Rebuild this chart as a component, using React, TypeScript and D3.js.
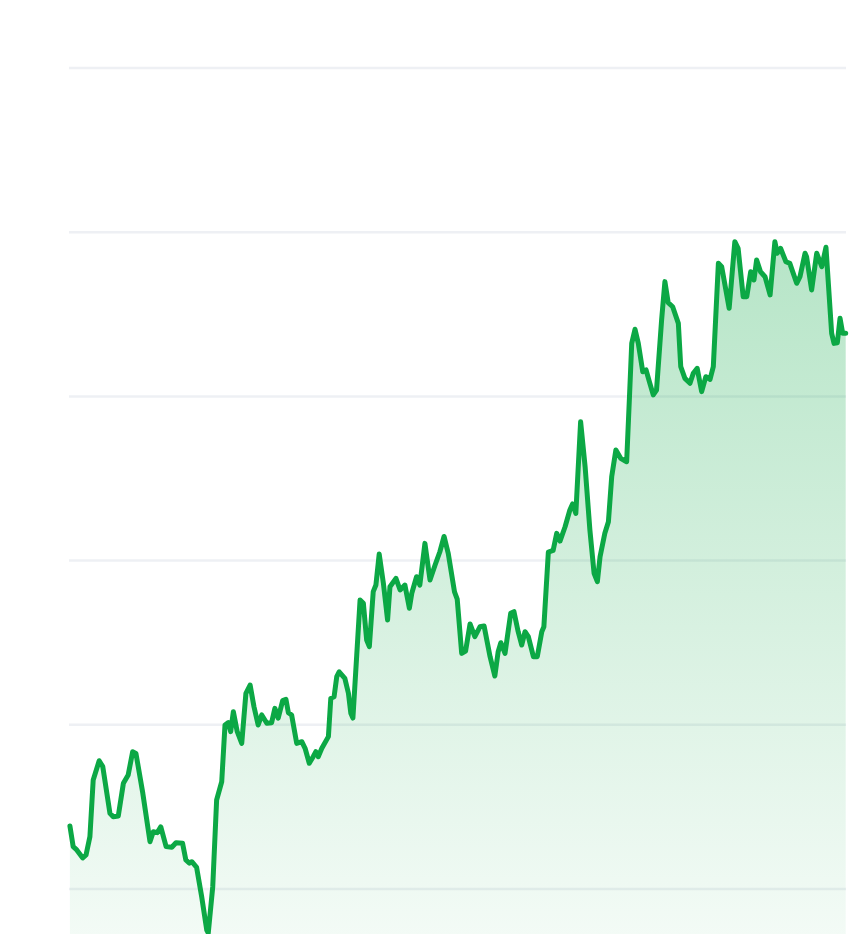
import React from "react";
import * as d3 from "d3";

const days: number[] = [
  0.3, 1.4, 2.6, 4.6, 5.7, 7.0, 8.1, 10.1, 11.3, 13.7, 14.8, 16.5, 18.2, 19.8, 21.3, 22.4, 24.7, 27.1, 28.2, 29.5,
  30.7, 32.5, 34.4, 35.8, 38.0, 39.1, 40.3, 41.1, 42.7, 44.4, 46.1, 46.6, 48.1, 49.4, 51.1, 52.2, 53.3, 54.1, 55.0, 56.3,
  57.8, 59.2, 60.6, 61.9, 63.3, 64.5, 66.2, 67.8, 68.9, 70.0, 71.5, 72.6, 73.4, 74.5, 76.2, 77.9, 79.0, 80.4, 81.7, 82.6,
  83.4, 84.6, 86.8, 87.6, 88.7, 89.6, 90.4, 92.3, 93.5, 94.3, 95.0, 97.4, 98.5, 99.6, 100.5, 101.8, 102.7, 103.8, 105.2, 106.6,
  107.4, 109.4, 110.8, 112.4, 113.9, 114.7, 116.3, 117.4, 119.1, 120.8, 122.5, 124.1, 125.5, 126.9, 129.0, 129.9, 131.4, 132.7, 134.2, 135.8,
  137.5, 138.9, 140.9, 142.5, 143.6, 144.5, 145.9, 147.8, 148.9, 150.3, 151.5, 152.6, 153.7, 155.4, 156.7, 158.2, 158.9, 160.4, 162.0, 163.2,
  164.3, 166.0, 167.6, 168.5, 169.6, 171.2, 172.7, 174.3, 175.7, 176.8, 177.7, 179.3, 180.5, 181.6, 183.0, 184.6, 186.6, 187.5, 188.3, 189.4,
  190.5, 192.0, 193.1, 194.2, 195.5, 196.6, 198.3, 199.4, 200.5, 202.0, 203.9, 204.7, 206.1, 207.8, 208.9, 210.2, 211.7, 213.1, 214.5, 215.6,
  217.3, 218.4, 220.9, 222.8, 223.9, 225.6, 226.8, 228.1, 229.2, 230.1, 231.4, 232.9, 234.6, 236.2, 237.0, 238.1, 239.9, 241.2, 243.5, 244.6,
  246.3, 246.8, 248.5, 250.2, 251.9, 253.3, 255.2, 256.0, 257.1, 258.0, 258.9, 259.9,
];

const values: number[] = [
  3.84, 2.58, 2.38, 1.89, 2.07, 3.19, 6.64, 7.81, 7.45, 4.61, 4.4, 4.45, 6.44, 6.94, 8.36, 8.26, 5.83, 2.88, 3.49, 3.43,
  3.79, 2.58, 2.54, 2.82, 2.78, 1.77, 1.57, 1.66, 1.32, -0.47, -2.5, -2.68, 0.14, 5.42, 6.53, 9.99, 10.13, 9.58, 10.8, 9.58,
  8.87, 11.92, 12.42, 11.1, 9.99, 10.6, 10.09, 10.13, 11.0, 10.4, 11.47, 11.55, 10.74, 10.6, 8.87, 8.97, 8.57, 7.66, 8.06, 8.36,
  8.06, 8.57, 9.28, 11.61, 11.71, 12.93, 13.23, 12.83, 11.92, 10.7, 10.41, 17.6, 17.4, 15.16, 14.76, 18.11, 18.51, 20.4, 18.62, 16.38,
  18.41, 18.92, 18.21, 18.51, 17.1, 18.01, 19.02, 18.51, 21.05, 18.82, 19.73, 20.54, 21.47, 20.44, 18.09, 17.66, 14.35, 14.49, 16.14, 15.37,
  15.97, 16.02, 14.15, 12.97, 14.45, 15.0, 14.35, 16.79, 16.89, 15.67, 14.86, 15.67, 15.37, 14.15, 14.15, 15.67, 15.97, 20.52, 20.62, 21.66,
  21.19, 22.06, 23.08, 23.45, 22.88, 28.46, 25.72, 21.86, 19.23, 18.72, 20.24, 21.66, 22.37, 25.11, 26.74, 26.23, 26.02, 29.78, 33.23, 34.09,
  33.23, 31.5, 31.61, 30.9, 30.09, 30.39, 34.65, 36.99, 35.71, 35.46, 34.45, 31.81, 31.1, 30.8, 31.41, 31.71, 30.29, 31.2, 31.04, 31.81,
  38.11, 37.9, 35.37, 39.42, 39.02, 36.07, 36.07, 37.59, 37.09, 38.31, 37.59, 37.29, 36.18, 39.42, 38.72, 39.02, 38.2, 38.1, 36.89, 37.29,
  38.72, 38.51, 36.48, 38.72, 37.9, 39.08, 33.84, 33.23, 33.27, 34.76, 33.84, 33.84,
];

const tickValues: number[] = [0, 10, 20, 30, 40, 50];
const dayDomain: [number, number] = [0, 260];

const WIDTH = 864;
const HEIGHT = 934;
const LEFT = 69;
const RIGHT = 846;
const Y_ZERO = 889;
const Y_TOP = 68;

export default function App() {
  const x = d3.scaleLinear().domain(dayDomain).range([LEFT, RIGHT]);
  const y = d3.scaleLinear().domain([tickValues[0], tickValues[tickValues.length - 1]]).range([Y_ZERO, Y_TOP]);
  const data = days.map((d, i) => ({ d, v: values[i] }));

  const line = d3
    .line<{ d: number; v: number }>()
    .x((p) => x(p.d))
    .y((p) => y(p.v));
  const area = d3
    .area<{ d: number; v: number }>()
    .x((p) => x(p.d))
    .y0(HEIGHT)
    .y1((p) => y(p.v));

  const maxV = d3.max(values) as number;

  return (
    <svg
      width={WIDTH}
      height={HEIGHT}
      style={{ position: "absolute", top: 0, left: 0, background: "#ffffff", display: "block" }}
    >
      <defs>
        <linearGradient id="areaGrad" gradientUnits="userSpaceOnUse" x1="0" x2="0" y1={y(maxV)} y2={HEIGHT}>
          <stop offset="0%" stopColor="#0ca845" stopOpacity={0.3} />
          <stop offset="100%" stopColor="#0ca845" stopOpacity={0.05} />
        </linearGradient>
      </defs>
      {tickValues.map((t) => (
        <line
          key={t}
          x1={LEFT}
          x2={RIGHT}
          y1={y(t)}
          y2={y(t)}
          stroke="#eef0f4"
          strokeWidth={2.5}
        />
      ))}
      <path d={area(data) || ""} fill="url(#areaGrad)" />
      <path
        d={line(data) || ""}
        fill="none"
        stroke="#0ca845"
        strokeWidth={5}
        strokeLinejoin="round"
        strokeLinecap="round"
      />
    </svg>
  );
}
